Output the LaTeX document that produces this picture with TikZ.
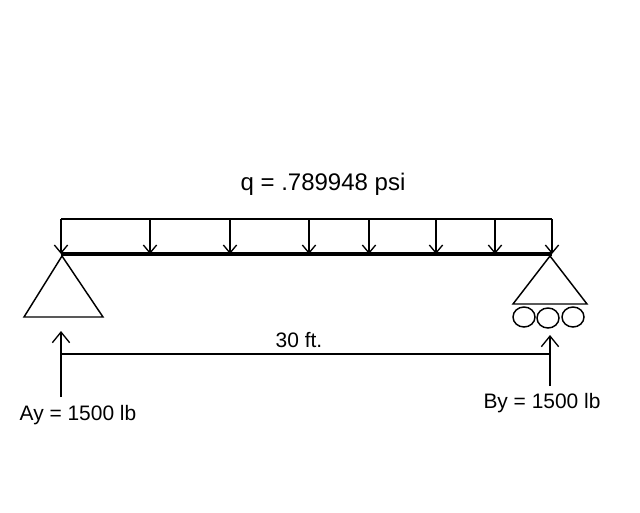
\documentclass[tikz,border=0pt]{standalone}
\usepackage{fontspec}
\setmainfont{Liberation Sans}
\usetikzlibrary{arrows.meta, shapes.geometric}

\begin{document}
\begin{tikzpicture}[x=0.75pt, y=-0.75pt, line width=1.5pt,
    every node/.style={inner sep=0pt, outer sep=0pt},
    label text/.style={font=\fontsize{15.7pt}{18pt}\selectfont},
    load arrow/.style={-{Straight Barb[length=6pt, width=10pt, line width=1pt]}},
    reaction arrow/.style={-{Straight Barb[length=8pt, width=13pt, line width=1pt]}},
    support/.style={line width=1.1pt},
    roller/.style={draw, ellipse, line width=1.1pt, minimum width=16.5pt, minimum height=15pt},]

\useasboundingbox (0,0) rectangle (640,512);

% beam and load
\coordinate (beamA) at (61,254);
\coordinate (beamB) at (552,254);
\coordinate (loadA) at (61,219);
\coordinate (loadB) at (552,219);
\draw[line width=3.6pt] (beamA) -- (beamB);
\draw (loadA) -- (loadB);
\draw[load arrow] (loadA) -- (beamA);
\foreach \x in {150,230,309,369,436,495,552}
    \draw[load arrow] (\x,219) -- (\x,254);

% supports
\coordinate (pinTop) at (62,256);
\coordinate (pinLeft) at (24,317);
\coordinate (pinRight) at (103,317);
\draw[support] (pinTop) -- (pinLeft) -- (pinRight) -- cycle;
\coordinate (rollTop) at (550,256);
\coordinate (rollLeft) at (513,304);
\coordinate (rollRight) at (587,304);
\draw[support] (rollTop) -- (rollLeft) -- (rollRight) -- cycle;
\node[roller] (rollerA) at (524,317) {};
\node[roller] (rollerB) at (548,318) {};
\node[roller] (rollerC) at (573,317) {};

% reactions and span
\coordinate (Afoot) at (61,397);
\coordinate (Atip) at (61,331);
\coordinate (Bfoot) at (550,386);
\coordinate (Btip) at (550,335);
\coordinate (spanA) at (61,354);
\coordinate (spanB) at (550,354);
\draw[reaction arrow] (Afoot) -- (Atip);
\draw[reaction arrow] (Bfoot) -- (Btip);
\draw (spanA) -- (spanB);

% labels
\node[label text, font=\fontsize{18pt}{20pt}\selectfont] (qLabel) at (323,184.5) {q = .789948 psi};
\node[label text] (spanLabel) at (299,340) {30 ft.};
\node[label text] (AyLabel) at (78,415.5) {Ay = 1500 lb};
\node[label text] (ByLabel) at (542,403.5) {By = 1500 lb};
\end{tikzpicture}
\end{document}
